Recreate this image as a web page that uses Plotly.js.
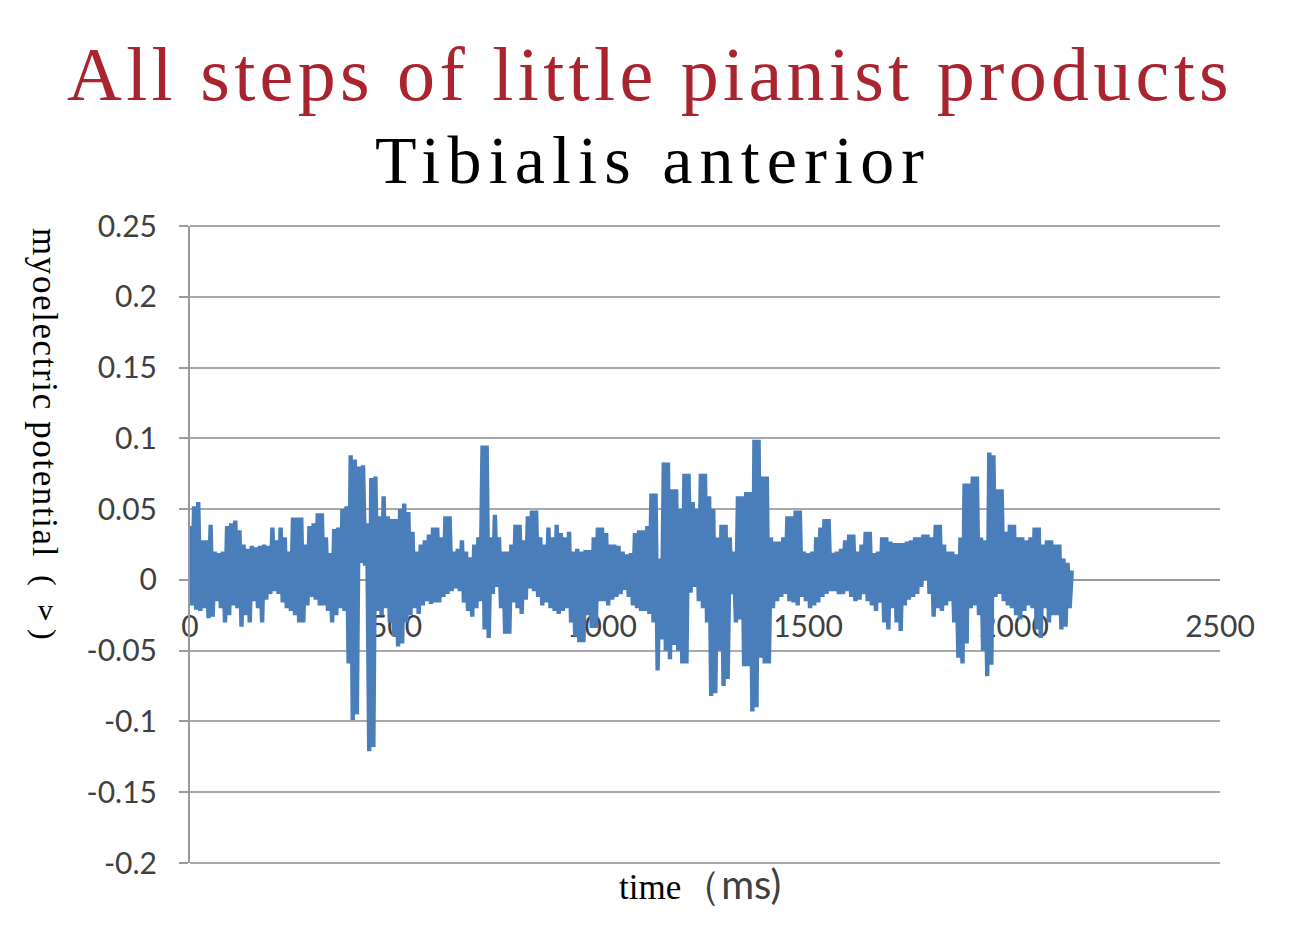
<!DOCTYPE html>
<html>
<head>
<meta charset="utf-8">
<script src="https://cdn.plot.ly/plotly-3.0.1.min.js"></script>
<style>
html,body{margin:0;padding:0;background:#fff;}
#chart{width:1300px;height:940px;}
</style>
</head>
<body>
<div id="chart"></div>
<script>
// Sampling step of the envelope readings (ms)
const STEP_MS = 10;

// Upper envelope of the EMG trace, one value per 10 ms from 0 ms
const upperEnvelope = [
  0.038,0.052,0.055,0.028,0.028,0.039,0.020,0.019,0.020,0.038,
  0.040,0.042,0.035,0.025,0.022,0.024,0.023,0.024,0.025,0.024,
  0.037,0.028,0.037,0.030,0.020,0.044,0.044,0.044,0.025,0.038,
  0.040,0.047,0.047,0.030,0.019,0.036,0.037,0.050,0.052,0.088,
  0.085,0.080,0.081,0.040,0.072,0.073,0.045,0.059,0.045,0.043,
  0.043,0.050,0.054,0.048,0.034,0.020,0.025,0.028,0.032,0.037,
  0.037,0.030,0.045,0.045,0.020,0.022,0.028,0.020,0.016,0.025,
  0.030,0.095,0.095,0.030,0.046,0.030,0.020,0.020,0.025,0.039,
  0.039,0.028,0.045,0.049,0.049,0.030,0.025,0.037,0.030,0.039,
  0.033,0.030,0.034,0.020,0.022,0.020,0.021,0.021,0.030,0.037,
  0.037,0.033,0.025,0.025,0.024,0.020,0.018,0.019,0.033,0.035,
  0.035,0.038,0.061,0.061,0.015,0.083,0.083,0.064,0.064,0.050,
  0.075,0.075,0.055,0.050,0.075,0.075,0.059,0.050,0.030,0.039,
  0.039,0.030,0.020,0.059,0.059,0.062,0.062,0.099,0.099,0.073,
  0.073,0.030,0.027,0.027,0.030,0.045,0.045,0.049,0.049,0.020,
  0.019,0.020,0.030,0.037,0.043,0.043,0.019,0.020,0.022,0.028,
  0.032,0.032,0.020,0.025,0.034,0.034,0.019,0.020,0.030,0.030,
  0.027,0.026,0.026,0.026,0.027,0.028,0.030,0.030,0.032,0.032,
  0.030,0.039,0.039,0.025,0.020,0.020,0.018,0.030,0.068,0.068,
  0.073,0.073,0.030,0.028,0.090,0.088,0.064,0.064,0.034,0.039,
  0.039,0.030,0.030,0.028,0.030,0.037,0.037,0.025,0.028,0.028,
  0.025,0.025,0.015,0.012,0.005
];

// Lower envelope of the EMG trace, one value per 10 ms (offset 5 ms)
const lowerEnvelope = [
  -0.018,-0.021,-0.022,-0.020,-0.027,-0.026,-0.015,-0.020,-0.030,-0.025,
  -0.018,-0.020,-0.033,-0.025,-0.030,-0.015,-0.020,-0.030,-0.014,-0.010,
  -0.008,-0.010,-0.016,-0.020,-0.022,-0.025,-0.030,-0.030,-0.018,-0.012,
  -0.014,-0.018,-0.018,-0.022,-0.030,-0.025,-0.020,-0.022,-0.059,-0.099,
  -0.095,0.012,0.010,-0.121,-0.118,-0.022,-0.025,-0.020,-0.030,-0.040,
  -0.047,-0.045,-0.030,-0.025,-0.020,-0.024,-0.018,-0.015,-0.017,-0.016,
  -0.016,-0.012,-0.010,-0.008,-0.006,-0.008,-0.016,-0.022,-0.026,-0.020,
  -0.015,-0.035,-0.041,-0.010,-0.005,-0.020,-0.038,-0.038,-0.016,-0.020,
  -0.024,-0.014,-0.006,-0.008,-0.012,-0.018,-0.016,-0.020,-0.022,-0.024,
  -0.022,-0.020,-0.030,-0.040,-0.044,-0.044,-0.025,-0.034,-0.034,-0.015,
  -0.015,-0.018,-0.014,-0.012,-0.010,-0.007,-0.012,-0.018,-0.020,-0.022,
  -0.022,-0.024,-0.030,-0.064,-0.042,-0.050,-0.056,-0.046,-0.050,-0.059,
  -0.059,-0.009,-0.005,-0.015,-0.020,-0.030,-0.082,-0.080,-0.050,-0.075,
  -0.070,-0.010,-0.030,-0.028,-0.061,-0.061,-0.093,-0.090,-0.055,-0.059,
  -0.059,-0.020,-0.015,-0.012,-0.010,-0.015,-0.016,-0.018,-0.012,-0.015,
  -0.020,-0.018,-0.016,-0.012,-0.010,-0.008,-0.008,-0.010,-0.010,-0.008,
  -0.012,-0.015,-0.014,-0.010,-0.015,-0.018,-0.022,-0.016,-0.030,-0.035,
  -0.020,-0.030,-0.036,-0.018,-0.014,-0.012,-0.010,-0.005,0.000,-0.010,
  -0.026,-0.020,-0.022,-0.018,-0.015,-0.030,-0.055,-0.059,-0.045,-0.020,
  -0.018,-0.025,-0.050,-0.068,-0.060,-0.012,-0.010,-0.015,-0.018,-0.020,
  -0.025,-0.028,-0.022,-0.018,-0.020,-0.035,-0.041,-0.020,-0.030,-0.025,
  -0.025,-0.035,-0.033,-0.020,0.005
];

const xTickValues = [0, 500, 1000, 1500, 2000, 2500];
const yTickValues = [-0.2, -0.15, -0.1, -0.05, 0, 0.05, 0.1, 0.15, 0.2, 0.25];
const yTickLabels = ['-0.2', '-0.15', '-0.1', '-0.05', '0', '0.05', '0.1', '0.15', '0.2', '0.25'];
const yRange = [-0.2, 0.25];

const titleText = 'All steps of little pianist products';
const subtitleText = 'Tibialis anterior';
const yTitleText = 'myoelectric potential';
const yTitleUnit = ['(', 'v', ')'];
const xTitleMain = 'time';
const xTitleUnit = '（ms)';

// Build the trace: alternate upper / lower readings in time order
const xs = [], ys = [];
const n = Math.min(upperEnvelope.length, lowerEnvelope.length);
for (let i = 0; i < n; i++) {
  xs.push(i * STEP_MS);             ys.push(upperEnvelope[i]);
  xs.push(i * STEP_MS + STEP_MS/2); ys.push(lowerEnvelope[i]);
}

const trace = {
  x: xs, y: ys, type: 'scatter', mode: 'lines',
  line: {color: '#4a7ebb', width: 4.4},
  hoverinfo: 'skip', showlegend: false
};

const tickFont = {family: 'Lato, "Open Sans", sans-serif', size: 30, color: '#404040'};
const serif = '"Liberation Serif", "Times New Roman", serif';
const yTitleX = (45-190)/1030;
const gridColor = '#a8a8a8';

const layout = {
  width: 1300, height: 940,
  paper_bgcolor: '#ffffff', plot_bgcolor: '#ffffff',
  margin: {l: 190, r: 80, t: 226, b: 77},
  showlegend: false,
  xaxis: {
    range: [0, 2500], tickvals: xTickValues, ticktext: xTickValues.map(String),
    anchor: 'free', position: (0 - yRange[0]) / (yRange[1] - yRange[0]),
    showgrid: false, zeroline: false,
    showline: true, linecolor: '#9a9a9a', linewidth: 2,
    ticks: 'inside', ticklen: 14, tickcolor: '#9a9a9a', tickwidth: 2,
    tickfont: tickFont, ticklabelstandoff: 20,
    layer: 'below traces', fixedrange: true
  },
  yaxis: {
    range: yRange, tickvals: yTickValues, ticktext: yTickLabels,
    showgrid: true, gridcolor: gridColor, gridwidth: 2,
    zeroline: false,
    showline: true, linecolor: '#9a9a9a', linewidth: 2,
    ticks: 'outside', ticklen: 9, tickcolor: '#9a9a9a', tickwidth: 2,
    tickfont: tickFont, ticklabelstandoff: 16,
    fixedrange: true
  },
  shapes: [
    {type: 'line', xref: 'paper', yref: 'paper', x0: 0, x1: 1, y0: 1, y1: 1,
     line: {color: gridColor, width: 2}, layer: 'below'},
    {type: 'line', xref: 'paper', yref: 'paper', x0: 0, x1: 1, y0: 0, y1: 0,
     line: {color: gridColor, width: 2}, layer: 'below'}
  ],
  annotations: [
    {xref: 'paper', yref: 'paper', x: 0.4466, y: 1.2386, xanchor: 'center', yanchor: 'middle',
     showarrow: false,
     text: "<span style='letter-spacing:4.3px'>" + titleText + "</span>",
     font: {family: serif, size: 76, color: '#aa2430'}},
    {xref: 'paper', yref: 'paper', x: 0.4495, y: 1.1036, xanchor: 'center', yanchor: 'middle',
     showarrow: false,
     text: "<span style='letter-spacing:7.2px'>" + subtitleText + "</span>",
     font: {family: serif, size: 68, color: '#000000'}},
    {xref: 'paper', yref: 'paper', x: yTitleX, y: (863-393)/637, xanchor: 'center', yanchor: 'middle',
     showarrow: false, textangle: 90,
     text: "<span style='letter-spacing:1.6px'>" + yTitleText + "</span>",
     font: {family: serif, size: 35, color: '#000000'}},
    {xref: 'paper', yref: 'paper', x: yTitleX, y: (863-580)/637, xanchor: 'center', yanchor: 'middle',
     showarrow: false, textangle: 90, text: yTitleUnit[0],
     font: {family: serif, size: 32, color: '#000000'}},
    {xref: 'paper', yref: 'paper', x: yTitleX, y: (863-609)/637, xanchor: 'center', yanchor: 'middle',
     showarrow: false, text: yTitleUnit[1],
     font: {family: serif, size: 30, color: '#000000'}},
    {xref: 'paper', yref: 'paper', x: yTitleX, y: (863-634)/637, xanchor: 'center', yanchor: 'middle',
     showarrow: false, textangle: 90, text: yTitleUnit[2],
     font: {family: serif, size: 32, color: '#000000'}},
    {xref: 'paper', yref: 'paper', x: (700-190)/1030, y: (863-884)/637, xanchor: 'center', yanchor: 'middle',
     showarrow: false,
     text: xTitleMain + "<span style='font-family:Lato, sans-serif; font-size:40px; color:#404040'>" + xTitleUnit + "</span>",
     font: {family: serif, size: 35, color: '#000000'}}
  ]
};

Plotly.newPlot('chart', [trace], layout, {staticPlot: true, displayModeBar: false});
</script>
</body>
</html>
